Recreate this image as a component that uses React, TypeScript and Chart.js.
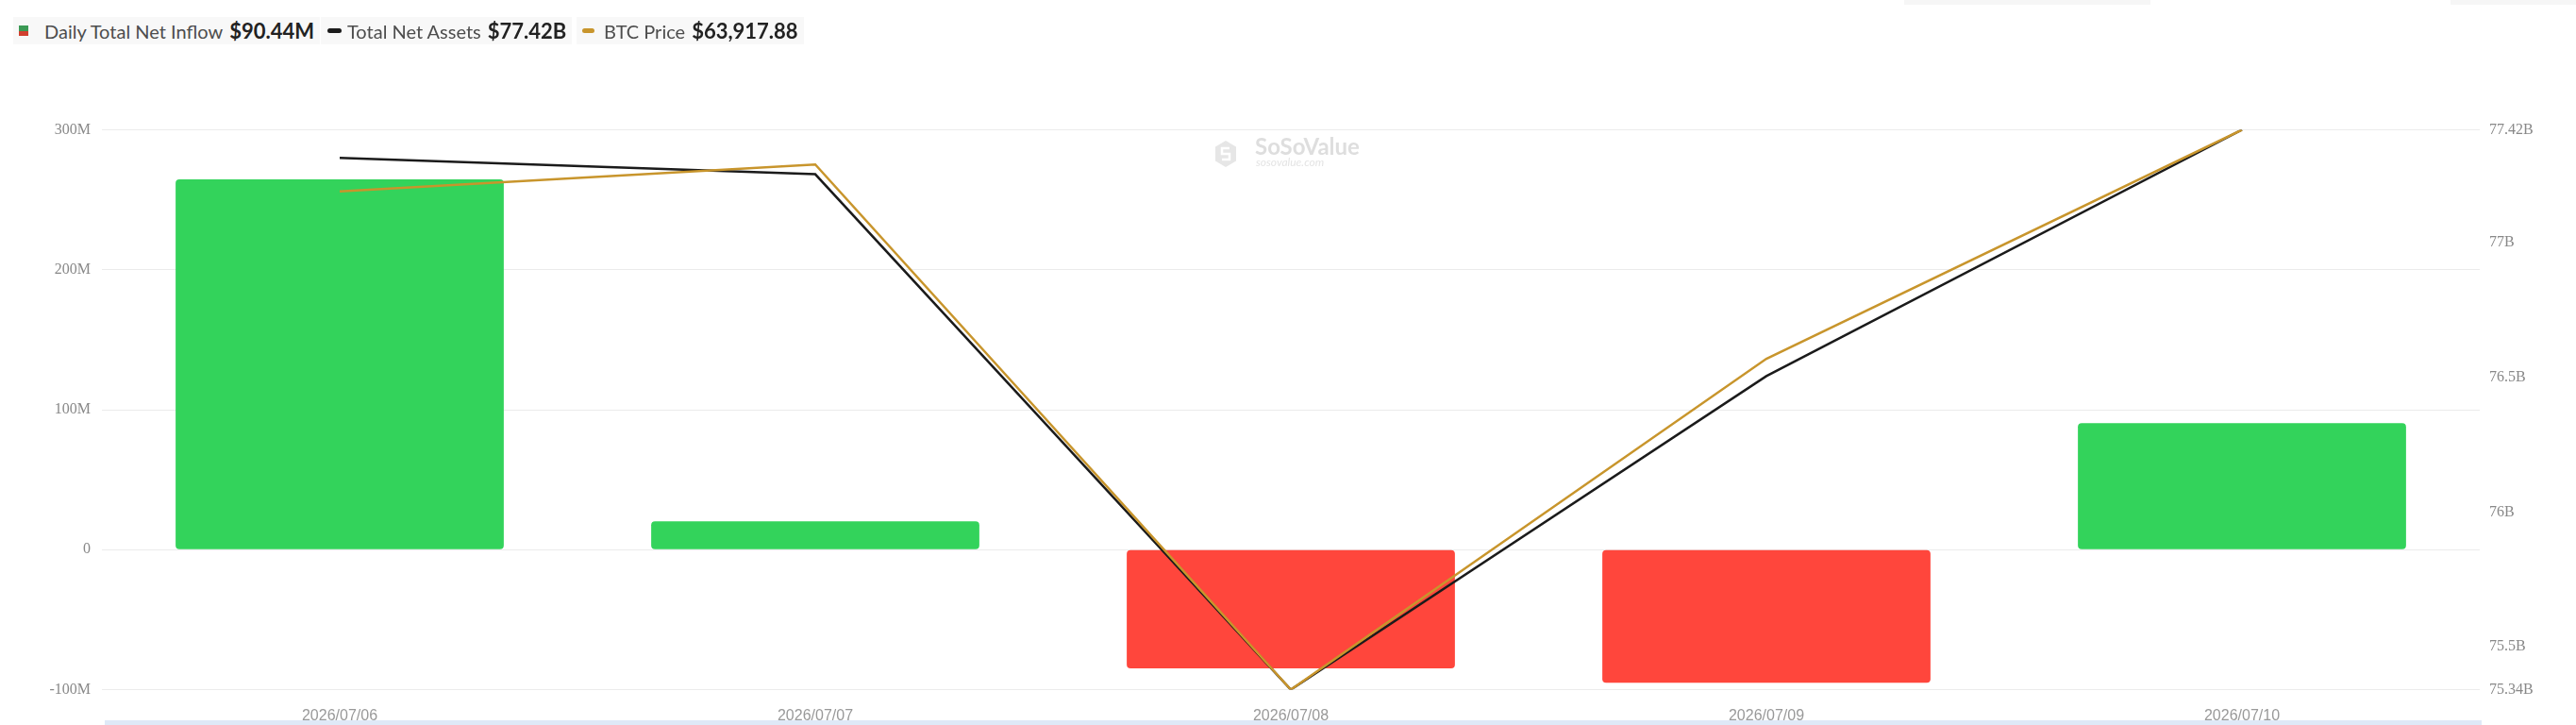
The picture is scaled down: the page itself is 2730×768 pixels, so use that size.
import React, { useEffect, useRef } from 'react';
import { Chart, registerables } from 'chart.js';

Chart.register(...registerables);

// ---- data ----
const dates = ['2026/07/06', '2026/07/07', '2026/07/08', '2026/07/09', '2026/07/10'];
const netInflowM = [264.6, 20.3, -84.9, -95.1, 90.44];
const totalNetAssetsB = [77.3155, 77.255, 75.34, 76.505, 77.42];
const btcPrice = [63182.3, 63503.3, 57230.5, 61182.7, 63917.88];
const leftTicksM = [-100, 0, 100, 200, 300];
const rightTicksB = [75.34, 75.5, 76, 76.5, 77, 77.42];

const GREEN = '#33D35B';
const RED = '#FF463C';
const BLACK = '#1b1b1b';
const GOLD = '#C8952C';

const serif = '"Liberation Serif", "Times New Roman", serif';
const sans = '"Liberation Sans", Arial, Helvetica, sans-serif';
const lato = 'Lato, "Open Sans", sans-serif';

export default function App() {
  const ref = useRef<HTMLCanvasElement | null>(null);

  useEffect(() => {
    const canvas = ref.current;
    if (!canvas) return;
    const chart = new Chart(canvas, {
      type: 'bar',
      data: {
        labels: dates,
        datasets: [
          {
            type: 'bar',
            label: 'Daily Total Net Inflow',
            data: netInflowM,
            backgroundColor: netInflowM.map((v) => (v >= 0 ? GREEN : RED)),
            borderRadius: 4,
            borderSkipped: false,
            barPercentage: 0.69,
            categoryPercentage: 1,
            yAxisID: 'y',
            order: 3,
          },
          {
            type: 'line',
            label: 'Total Net Assets',
            data: totalNetAssetsB,
            borderColor: BLACK,
            borderWidth: 2.5,
            pointRadius: 0,
            tension: 0,
            yAxisID: 'y1',
            order: 2,
          },
          {
            type: 'line',
            label: 'BTC Price',
            data: btcPrice,
            borderColor: GOLD,
            borderWidth: 2.5,
            pointRadius: 0,
            tension: 0,
            yAxisID: 'y2',
            order: 1,
          },
        ] as any,
      },
      options: {
        responsive: false,
        animation: false,
        devicePixelRatio: 1,
        layout: { padding: { top: 137.5, left: 0, right: 0, bottom: 0 } },
        plugins: { legend: { display: false }, tooltip: { enabled: false } },
        scales: {
          x: {
            grid: { display: false },
            border: { display: false },
            ticks: {
              font: { family: sans, size: 16 },
              color: '#999999',
              padding: 10,
              maxRotation: 0,
              autoSkip: false,
            },
            afterFit: (s: any) => {
              s.height = 37.5;
            },
          },
          y: {
            position: 'left',
            min: leftTicksM[0],
            max: leftTicksM[leftTicksM.length - 1],
            afterBuildTicks: (s: any) => {
              s.ticks = leftTicksM.map((v) => ({ value: v }));
            },
            grid: { color: '#ebebeb', lineWidth: 1, drawTicks: false },
            border: { display: false },
            ticks: {
              font: { family: serif, size: 16 },
              color: '#888888',
              padding: 12,
              callback: (v: any) => (Number(v) === 0 ? '0' : `${v}M`),
            },
            afterFit: (s: any) => {
              s.width = 108;
            },
          },
          y1: {
            position: 'right',
            min: Math.min(...totalNetAssetsB),
            max: Math.max(...totalNetAssetsB),
            afterBuildTicks: (s: any) => {
              s.ticks = rightTicksB.map((v) => ({ value: v }));
            },
            grid: { display: false, drawTicks: false },
            border: { display: false },
            ticks: {
              font: { family: serif, size: 16 },
              color: '#888888',
              padding: 10,
              callback: (v: any) => `${v}B`,
            },
            afterFit: (s: any) => {
              s.width = 102;
            },
          },
          y2: {
            display: false,
            min: Math.min(...btcPrice),
            max: Math.max(...btcPrice),
          },
        },
      } as any,
    });
    return () => chart.destroy();
  }, []);

  const box: React.CSSProperties = {
    position: 'absolute',
    top: 18,
    height: 29,
    background: '#f8f8f8',
    display: 'flex',
    alignItems: 'center',
    fontFamily: lato,
    whiteSpace: 'nowrap',
  };
  const labelStyle: React.CSSProperties = { fontSize: 20, color: '#4d4d4d' };
  const valueStyle: React.CSSProperties = {
    fontSize: 22,
    fontWeight: 700,
    color: '#222222',
    marginLeft: 7,
  };

  return (
    <div
      style={{
        position: 'absolute',
        left: 0,
        top: 0,
        width: 2730,
        height: 768,
        background: '#ffffff',
        overflow: 'hidden',
      }}
    >
      <canvas
        ref={ref}
        width={2730}
        height={768}
        style={{ position: 'absolute', left: 0, top: 0, width: 2730, height: 768, display: 'block' }}
      />

      {/* faint top-right boxes */}
      <div style={{ position: 'absolute', left: 2018, top: 0, width: 261, height: 5, background: '#f6f6f6' }} />
      <div style={{ position: 'absolute', left: 2597, top: 0, width: 133, height: 5, background: '#f6f6f6' }} />

      {/* legend */}
      <div style={{ ...box, left: 14, paddingLeft: 6, paddingRight: 6 }}>
        <div style={{ width: 10, height: 11, display: 'flex', flexDirection: 'column' }}>
          <div style={{ height: 5.5, background: '#3b9a55' }} />
          <div style={{ height: 5.5, background: '#d1402f' }} />
        </div>
        <span style={{ ...labelStyle, marginLeft: 17 }}>Daily Total Net Inflow</span>
        <span style={valueStyle}>$90.44M</span>
      </div>
      <div style={{ ...box, left: 340, paddingLeft: 7, paddingRight: 6 }}>
        <div style={{ width: 15, height: 5, borderRadius: 3, background: BLACK }} />
        <span style={{ ...labelStyle, marginLeft: 6 }}>Total Net Assets</span>
        <span style={valueStyle}>$77.42B</span>
      </div>
      <div style={{ ...box, left: 611, paddingLeft: 6, paddingRight: 6 }}>
        <div style={{ width: 13, height: 5, borderRadius: 3, background: GOLD }} />
        <span style={{ ...labelStyle, marginLeft: 10 }}>BTC Price</span>
        <span style={valueStyle}>$63,917.88</span>
      </div>

      {/* watermark */}
      <div style={{ position: 'absolute', left: 1287, top: 148, width: 24, height: 30 }}>
        <svg width="24" height="30" viewBox="0 0 24 30">
          <polygon points="12,1 23,7.5 23,22.5 12,29 1,22.5 1,7.5" fill="#e6e6e6" />
          <path d="M16,9 L8,9 L8,15 L16,15 L16,21 L8,21" stroke="#ffffff" strokeWidth="2.5" fill="none" />
        </svg>
      </div>
      <div
        style={{
          position: 'absolute',
          left: 1330,
          top: 142,
          fontFamily: lato,
          fontWeight: 700,
          fontSize: 24,
          color: '#dedede',
          lineHeight: '25px',
        }}
      >
        SoSoValue
      </div>
      <div
        style={{
          position: 'absolute',
          left: 1331,
          top: 165,
          fontFamily: lato,
          fontSize: 12,
          color: '#e4e4e4',
          lineHeight: '14px',
          fontStyle: 'italic',
        }}
      >
        sosovalue.com
      </div>

      {/* bottom band */}
      <div style={{ position: 'absolute', left: 111, top: 763, width: 2519, height: 5, background: '#dfe9f7' }} />
    </div>
  );
}
